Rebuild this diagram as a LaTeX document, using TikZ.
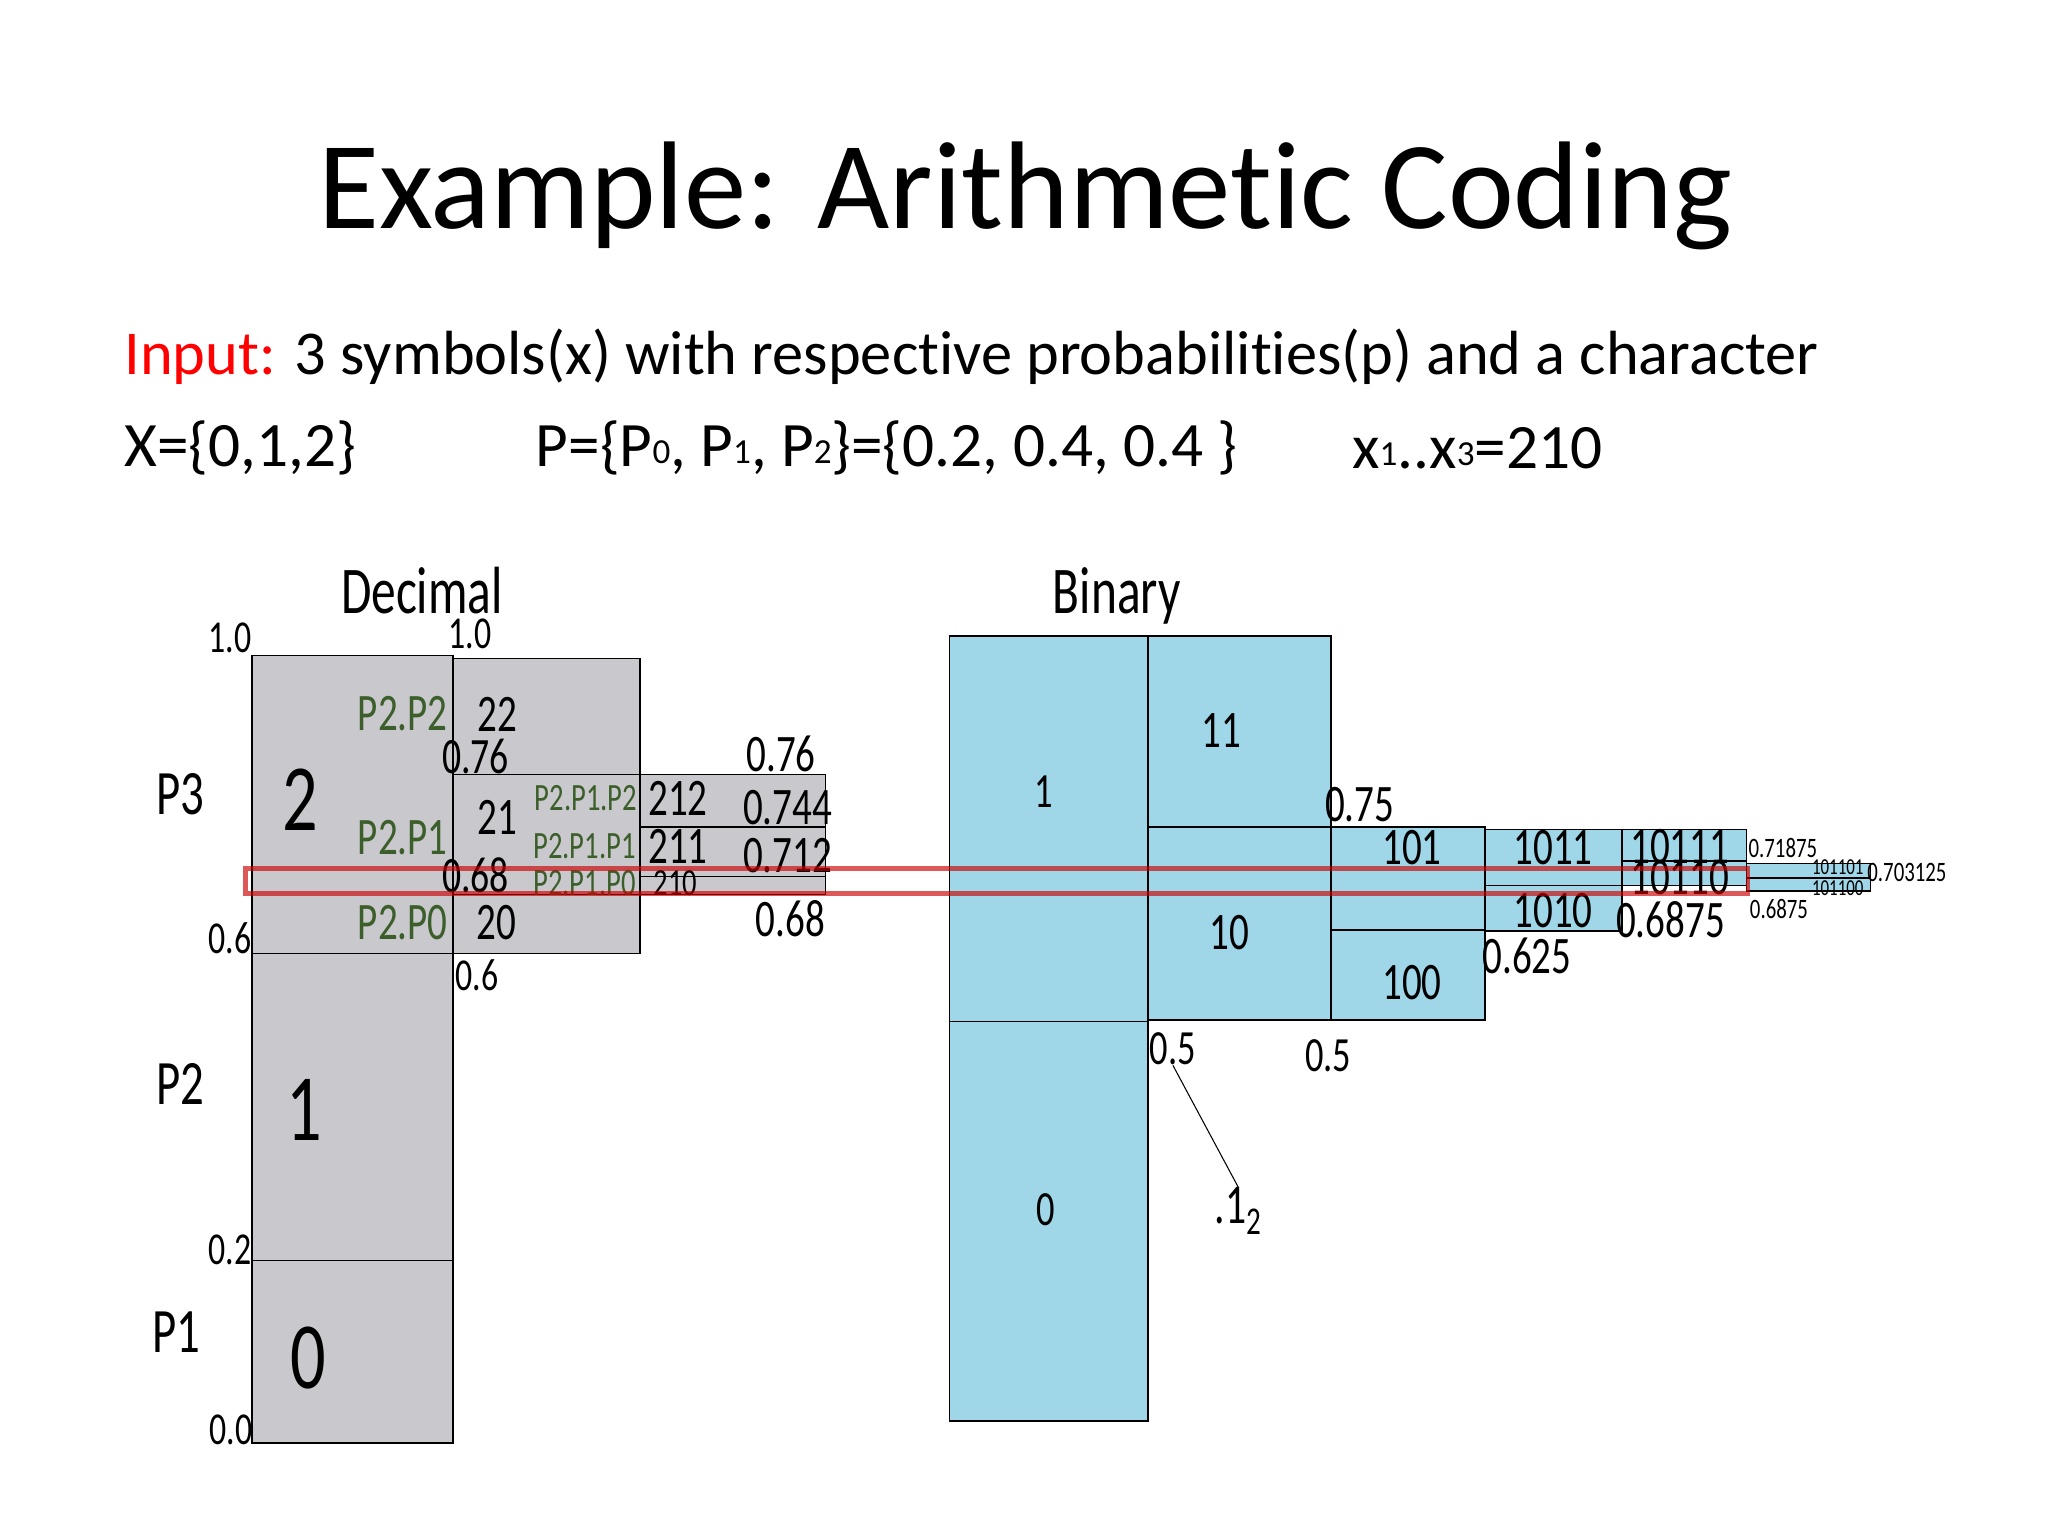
\documentclass[tikz,border=0pt]{standalone}
\usepackage{fontspec}
\setmainfont[Ligatures={NoCommon}]{Carlito}
\usepackage{graphicx}
\definecolor{gfill}{HTML}{C9C8CC}
\definecolor{bfill}{HTML}{9FD7E8}
\definecolor{dgreen}{HTML}{3B5E2B}
\definecolor{inred}{HTML}{FF0000}
\newcommand{\nr}[1]{\scalebox{0.74}[1]{#1}}
\newcommand{\fs}[1]{\fontsize{#1}{#1}\selectfont}
\newcommand{\sbs}[1]{\raisebox{0.1ex}{\fontsize{20}{20}\selectfont #1}}
\begin{document}
\begin{tikzpicture}[x=0.026122cm,y=-0.026122cm,
  gbox/.style={draw=black,fill=gfill,line width=0.9pt},
  bbox/.style={draw=black,fill=bfill,line width=0.9pt},
  lab/.style={inner sep=0pt,anchor=center},
  grn/.style={inner sep=0pt,anchor=east,text=dgreen}]
\useasboundingbox[fill=white] (0,0) rectangle (1568,1176);
% title
\node[lab] (title) at (785,150) {\fs{71}Example: Arithmetic Coding};
\node[lab,anchor=west] (inp) at (95,273) {\fs{35.5}\textcolor{inred}{Input:} 3 symbols(x) with respective probabilities(p) and a character};
\node[lab,anchor=west] (xs) at (95,343) {\fs{36}X=\{0,1,2\}};
\node[lab,anchor=west] (ps) at (410,343) {\fs{36}P=\{P\sbs{0}, P\sbs{1}, P\sbs{2}\}=\{0.2, 0.4, 0.4 \}};
\node[lab,anchor=west] (xx) at (1035,343) {\fs{36}x\sbs{1}..x\sbs{3}=210};
% decimal boxes
\draw[gbox] (193,502) rectangle (347,1105);
\draw[gbox] (347,504) rectangle (490,730);
\draw[gbox] (490,593) rectangle (632,685);
\draw[line width=0.9pt] (193,730) -- (347,730);
\draw[line width=0.9pt] (193,965) -- (347,965);
\draw[line width=0.9pt] (347,593) -- (490,593);
\draw[line width=0.9pt] (347,685) -- (490,685);
\draw[line width=0.9pt] (490,633) -- (632,633);
\draw[line width=0.9pt] (490,671) -- (632,671);
% decimal labels
\node[lab] (dec) at (323,452) {\fs{38}\nr{Decimal}};
\node[lab] (l10a) at (176,488) {\fs{26}\nr{1.0}};
\node[lab] (l10b) at (360,485) {\fs{26}\nr{1.0}};
\node[lab] (l06a) at (176,718) {\fs{26}\nr{0.6}};
\node[lab] (l02) at (176,957) {\fs{26}\nr{0.2}};
\node[lab] (l00) at (177,1095) {\fs{26}\nr{0.0}};
\node[lab] (p3) at (138,608) {\fs{36}\nr{P3}};
\node[lab] (p2) at (138,830) {\fs{36}\nr{P2}};
\node[lab] (p1) at (135,1020) {\fs{36}\nr{P1}};
\node[lab] (s2) at (230,612) {\fs{54}\nr{2}};
\node[lab] (s1) at (233,850) {\fs{54}\nr{1}};
\node[lab] (s0) at (236,1040) {\fs{54}\nr{0}};
\node[grn] (g22) at (343,546) {\fs{30}\nr{P2.P2}};
\node[grn] (g21) at (343,641) {\fs{30}\nr{P2.P1}};
\node[grn] (g20) at (343,706) {\fs{30}\nr{P2.P0}};
\node[lab] (n22) at (381,547) {\fs{30}\nr{22}};
\node[lab] (v076) at (364,579) {\fs{29}\nr{0.76}};
\node[lab] (n21) at (381,626) {\fs{30}\nr{21}};
\node[lab] (v068) at (364,670) {\fs{29}\nr{0.68}};
\node[lab] (n20) at (380,706) {\fs{30}\nr{20}};
\node[lab] (v06) at (365,747) {\fs{26}\nr{0.6}};
\node[grn] (g212) at (488,611) {\fs{22}\nr{P2.P1.P2}};
\node[grn] (g211) at (487,648) {\fs{22}\nr{P2.P1.P1}};
\node[grn] (g210) at (487,676) {\fs{22}\nr{P2.P1.P0}};
\node[lab] (n212) at (519,611) {\fs{30}\nr{212}};
\node[lab] (n211) at (519,648) {\fs{30}\nr{211}};
\node[lab] (n210) at (517,676) {\fs{22}\nr{210}};
\node[lab] (w076) at (598,577) {\fs{30}\nr{0.76}};
\node[lab] (w0744) at (603,618) {\fs{30}\nr{0.744}};
\node[lab] (w0712) at (603,655) {\fs{30}\nr{0.712}};
\node[lab] (w068) at (605,703) {\fs{30}\nr{0.68}};
% binary boxes
\draw[bbox] (727,487) rectangle (879,1088);
\draw[bbox] (879,487) rectangle (1019,781);
\draw[bbox] (1019,633) rectangle (1137,781);
\draw[bbox] (1137,635) rectangle (1242,713);
\draw[bbox] (1242,635) rectangle (1337,678);
\draw[bbox] (1337,661) rectangle (1432,682);
\draw[line width=0.9pt] (727,782) -- (879,782);
\draw[line width=0.9pt] (879,633) -- (1019,633);
\draw[line width=0.9pt] (1019,712) -- (1137,712);
\draw[line width=0.9pt] (1137,678) -- (1242,678);
\draw[line width=0.9pt] (1242,659) -- (1337,659);
\draw[line width=0.9pt] (1337,672) -- (1432,672);
\node[lab] (bin) at (855,456) {\fs{38}\nr{Binary}};
\node[lab] (b1) at (799,606) {\fs{28}\nr{1}};
\node[lab] (b0) at (801,926) {\fs{28}\nr{0}};
\node[lab] (b11) at (935,559) {\fs{30}\nr{11}};
\node[lab] (b10) at (941,714) {\fs{30}\nr{10}};
\node[lab] (b101) at (1081,649) {\fs{30}\nr{101}};
\node[lab] (b100) at (1081,752) {\fs{30}\nr{100}};
\node[lab] (b1011) at (1189,649) {\fs{30}\nr{1011}};
\node[lab] (b1010) at (1189,697) {\fs{30}\nr{1010}};
\node[lab] (b10111) at (1286,648) {\fs{30}\nr{10111}};
\node[lab] (b10110) at (1286,672) {\fs{30}\nr{10110}};
\node[lab] (b101101) at (1407,664) {\fs{13}\nr{101101}};
\node[lab] (b101100) at (1407,680) {\fs{13}\nr{101100}};
\node[lab] (u075) at (1041,616) {\fs{30}\nr{0.75}};
\node[lab] (u0625) at (1169,732) {\fs{30}\nr{0.625}};
\node[lab] (u06875) at (1279,704) {\fs{30}\nr{0.6875}};
\node[lab] (u071875) at (1365,649) {\fs{16}\nr{0.71875}};
\node[lab] (u06875s) at (1362,696) {\fs{16}\nr{0.6875}};
\node[lab] (u0703) at (1460,668) {\fs{16}\nr{0.703125}};
\node[lab] (u05a) at (898,803) {\fs{28}\nr{0.5}};
\node[lab] (u05b) at (1017,808) {\fs{28}\nr{0.5}};
\node[lab] (dot12) at (948,927) {\fs{32}\nr{.1\textsubscript{2}}};
\draw[line width=0.6pt] (u05a.south) -- (dot12.north);
% red box
\draw[red!80!black,opacity=0.65,line width=2.4pt] (188,665) rectangle (1338,684);
\end{tikzpicture}
\end{document}
